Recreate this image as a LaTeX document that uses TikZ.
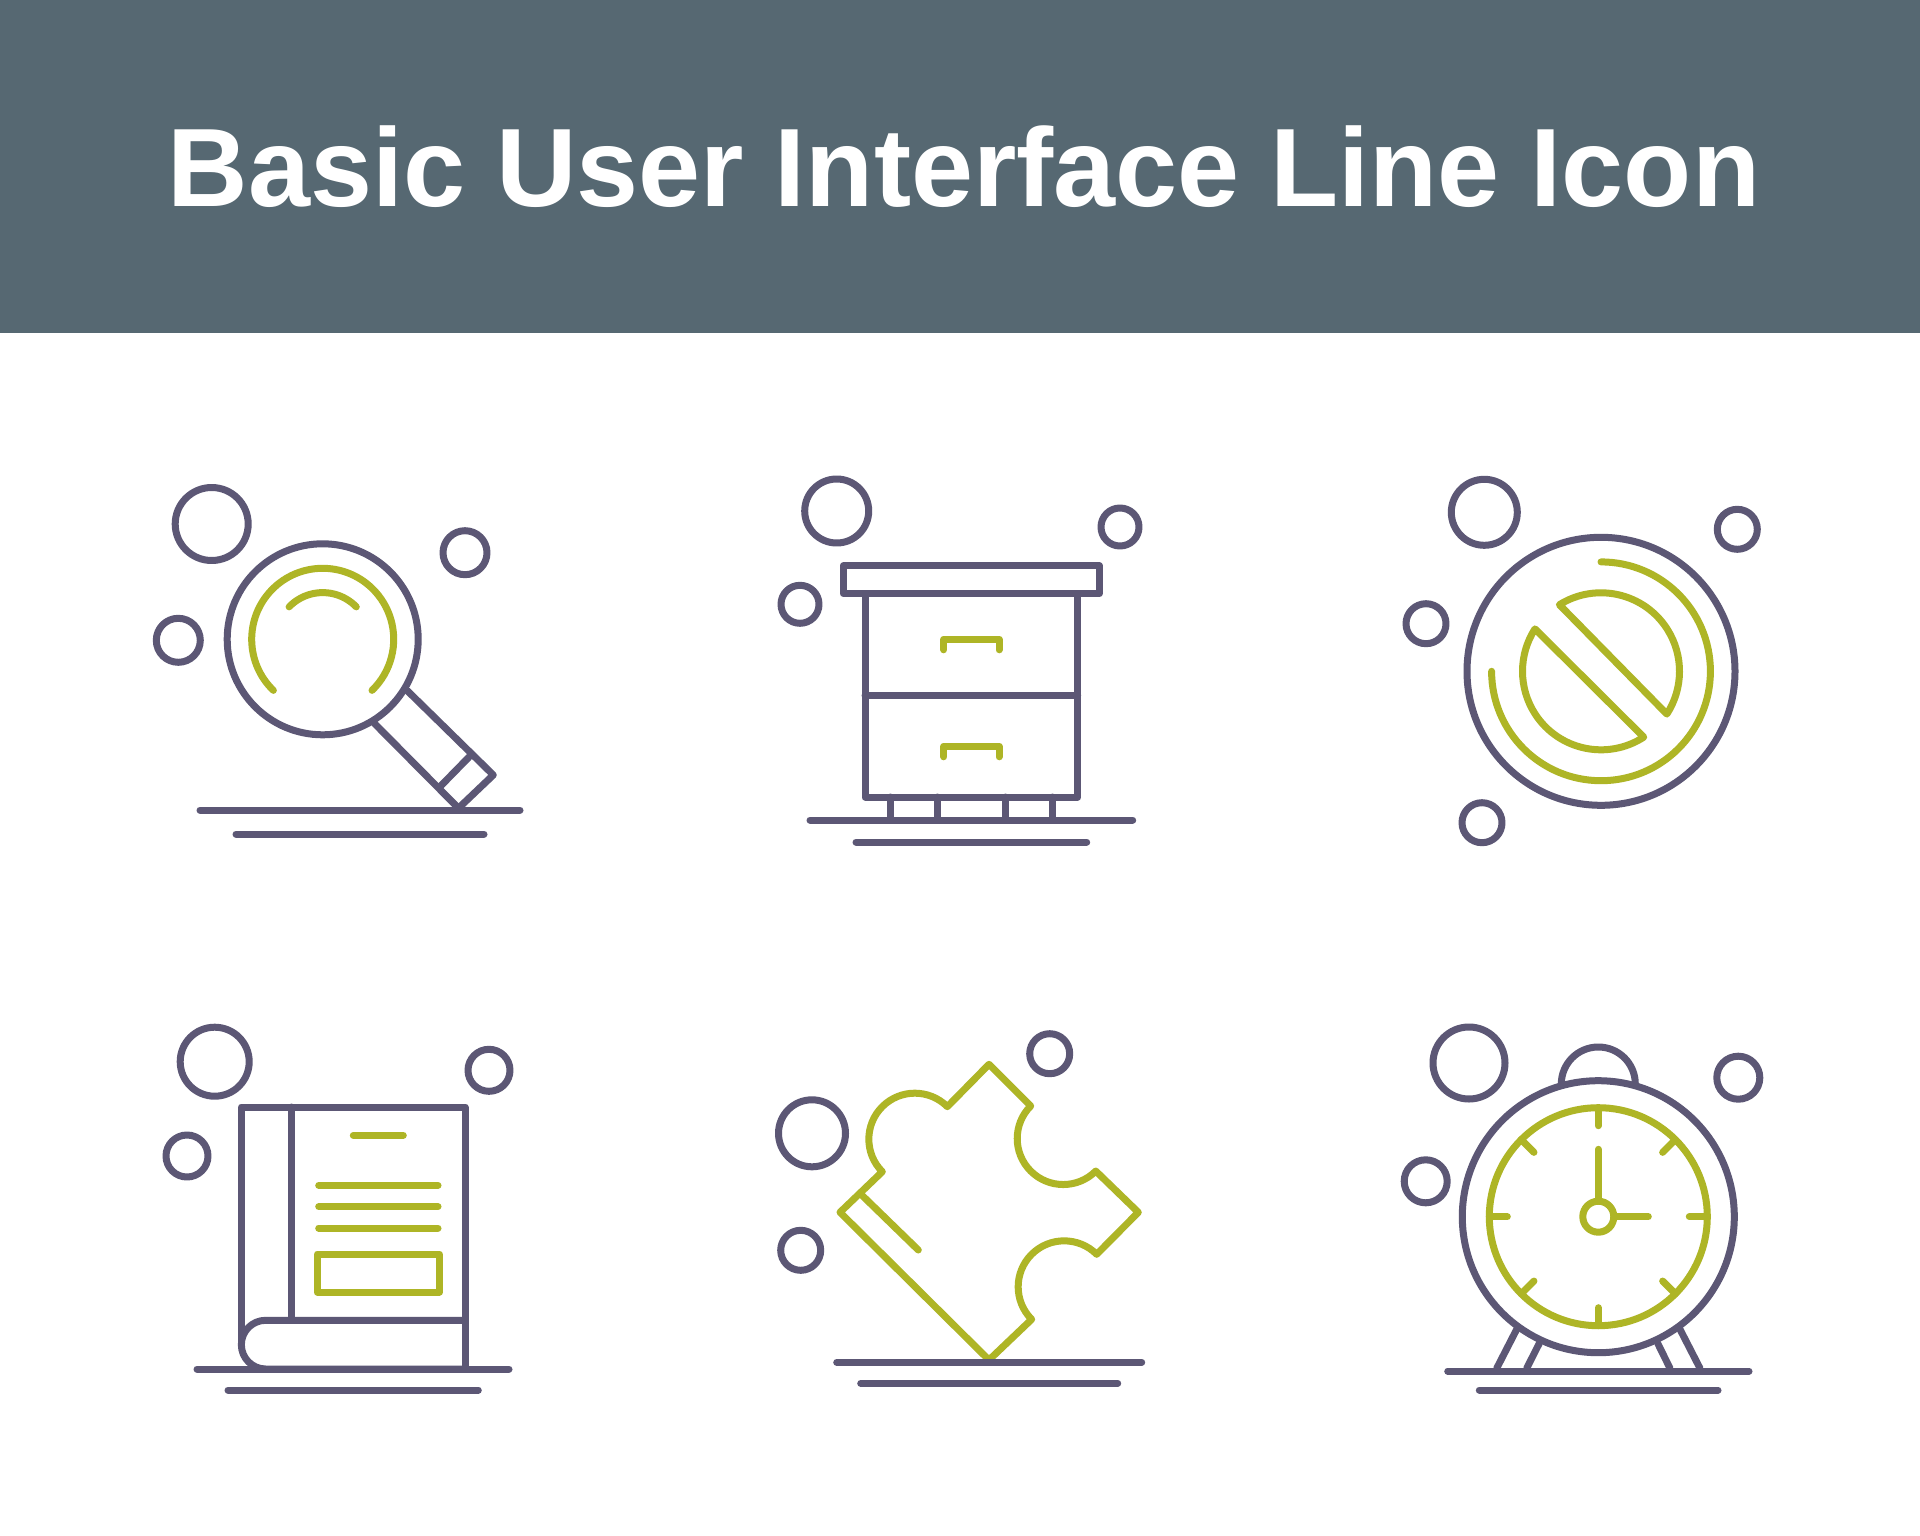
\documentclass[tikz,border=0pt]{standalone}
\usepackage{fontspec}
\setmainfont{Liberation Sans}
\usepackage{tikz}
\usetikzlibrary{calc}
\definecolor{bannerSlate}{RGB}{86, 104, 114}
\definecolor{iconPurple}{RGB}{92, 87, 117}
\definecolor{iconOlive}{RGB}{174, 181, 38}
\tikzset{
    % purple outline
    iconline/.style={
        draw=iconPurple,
        line width=7pt,
        line cap=round,
        line join=round
    },
    % olive outline
    accentline/.style={
        draw=iconOlive,
        line width=7pt,
        line cap=round,
        line join=round
    },
    % banner text
    titletext/.style={
        text=white,
        font=\fontsize{111.5}{120}\selectfont\bfseries,
        inner sep=0pt
    }
}
\begin{document}
\begin{tikzpicture}[x=1pt, y=1pt, yscale=-1]

    % page and banner
    \useasboundingbox (0,0) rectangle (1920,1536);
    \fill[white] (0,0) rectangle (1920,1536);
    \fill[bannerSlate] (0,0) rectangle (1920,333);
    \node[titletext, anchor=base] (title) at (964,206) {Basic User Interface Line Icon};

    % [1] magnifier
    \foreach \cx/\cy/\rad in {211.7/524/36.5, 465/552.7/22, 178.3/640.3/22}
        \draw[iconline] (\cx,\cy) circle[radius=\rad];
    \coordinate (lens) at (322.7,639.3);
    \draw[iconline] (lens) circle[radius=95.5];
    \draw[accentline] (lens) ++(134:71) arc[start angle=134, end angle=406, radius=71];
    \draw[accentline] (lens) ++(224:46.7) arc[start angle=224, end angle=316, radius=46.7];
    \draw[iconline] (407.3,690.7) -- (493.3,775) -- (460,806.7);
    \draw[iconline] (374.3,723.3) -- (458.3,808);
    \draw[iconline] (470,756) -- (440,786.7);
    \draw[iconline] (200,810) -- (520,810);
    \draw[iconline] (236,834) -- (484,834);

    % [2] cabinet
    \foreach \cx/\cy/\rad in {836.7/511/32, 1120/527/19, 800/604.3/19}
        \draw[iconline] (\cx,\cy) circle[radius=\rad];
    \draw[iconline] (843.3,565.7) rectangle (1099.3,593.7);
    \draw[iconline] (865,593.7) rectangle (1077.7,797);
    \draw[iconline] (865,695.3) -- (1077.7,695.3);
    \foreach \hy in {639.3, 746.3}
        \draw[accentline] (943.7,\hy+10.5) -- (943.7,\hy) -- (999,\hy) -- (999,\hy+10.5);
    \foreach \fx in {890, 937, 1005.7, 1052.7}
        \draw[iconline] (\fx,797) -- (\fx,820);
    \draw[iconline] (810,820) -- (1132.7,820);
    \draw[iconline] (856,842) -- (1086.7,842);

    % [3] forbidden sign
    \foreach \cx/\cy/\rad in {1484.3/512.3/33, 1737.3/529.3/20, 1426/623.7/20, 1482/822.7/20}
        \draw[iconline] (\cx,\cy) circle[radius=\rad];
    \coordinate (sign) at (1601,671.3);
    \draw[iconline] (sign) circle[radius=134];
    \draw[accentline] (sign) ++(270:109.4) arc[start angle=270, end angle=540, radius=109.4];
    \draw[accentline] (sign) ++(238:78.5) arc[start angle=238, end angle=393, radius=78.5] -- cycle;
    \draw[accentline] (sign) ++(57:78.5) arc[start angle=57, end angle=212.7, radius=78.5] -- cycle;

    % [4] book
    \foreach \cx/\cy/\rad in {214.7/1061.7/34.5, 489/1070.3/21, 187/1156/21}
        \draw[iconline] (\cx,\cy) circle[radius=\rad];
    \draw[iconline] (241.3,1345) -- (241.3,1107) -- (465,1107) -- (465,1369);
    \draw[iconline] (291.7,1107) -- (291.7,1320.3);
    \draw[iconline] (465,1320.3) -- (265.7,1320.3) arc[start angle=270, end angle=90, radius=24.35] -- (465,1369);
    \draw[accentline] (353.3,1135.3) -- (403.3,1135.3);
    \foreach \ly in {1185.3, 1206.7, 1228}
        \draw[accentline] (318.7,\ly) -- (438,\ly);
    \draw[accentline] (317.3,1254) rectangle (439.3,1292);
    \draw[iconline] (197,1369) -- (509,1369);
    \draw[iconline] (228,1390) -- (478.3,1390);

    % [5] puzzle piece
    \foreach \cx/\cy/\rad in {812/1133.3/33.5, 1049.7/1053.7/20, 800.7/1250.3/20}
        \draw[iconline] (\cx,\cy) circle[radius=\rad];
    \draw[accentline] (989,1064.3) -- (1030.7,1106)
        arc[start angle=225, end angle=45, radius=46] -- (1138.3,1212.3) -- (1096.7,1254.3)
        arc[start angle=315, end angle=135, radius=46] -- (989,1360) -- (840,1212.3) -- (882.3,1171.7)
        arc[start angle=135, end angle=315, radius=46] -- cycle;
    \draw[accentline] (861.7,1195) -- (918.3,1250);
    \draw[iconline] (836.7,1362.3) -- (1141.7,1362.3);
    \draw[iconline] (860.7,1383.3) -- (1117.7,1383.3);

    % [6] alarm clock
    \foreach \cx/\cy/\rad in {1469/1063/36, 1738.3/1077.7/21.5, 1425.7/1181.3/21.5}
        \draw[iconline] (\cx,\cy) circle[radius=\rad];
    \coordinate (clock) at (1598.3,1216.7);
    \draw[iconline] (clock) circle[radius=136];
    \draw[iconline] (1561.3,1084) arc[start angle=180, end angle=360, radius=37];
    \draw[iconline] (1516.7,1329.3) -- (1496.7,1368.3);
    \draw[iconline] (1539.3,1343.3) -- (1526.7,1368.3);
    \draw[iconline] (1657.7,1343.3) -- (1670,1368.3);
    \draw[iconline] (1680,1329.3) -- (1700,1368.3);
    \draw[accentline] (clock) circle[radius=109];
    \foreach \ang in {0,45,...,315}
        \draw[accentline] ($(clock)+(\ang:109)$) -- ($(clock)+(\ang:91)$);
    \draw[accentline] (clock) circle[radius=15.5];
    \draw[accentline] (1598.3,1201.2) -- (1598.3,1149.3);
    \draw[accentline] (1613.8,1216.7) -- (1648.3,1216.7);
    \draw[iconline] (1447.7,1371) -- (1749,1371);
    \draw[iconline] (1479.3,1390) -- (1718,1390);

\end{tikzpicture}
\end{document}
